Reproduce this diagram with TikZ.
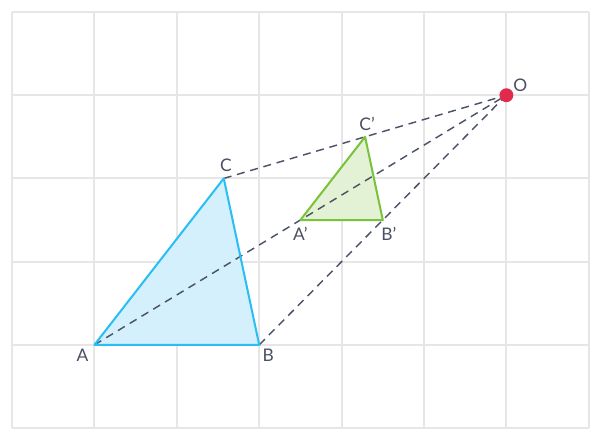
\documentclass[tikz,border=0pt]{standalone}
\usepackage{fontspec}
\setmainfont{Lato}
\usetikzlibrary{positioning}

\definecolor{gridgray}{HTML}{E6E6E6}
\definecolor{bluestroke}{HTML}{29BFF5}
\definecolor{bluefill}{HTML}{D4F0FC}
\definecolor{greenstroke}{HTML}{78C33A}
\definecolor{greenfill}{HTML}{E3F1D4}
\definecolor{rayline}{HTML}{4B5366}
\definecolor{centerred}{HTML}{E22A4D}
\definecolor{labeltext}{HTML}{4A4F63}

\begin{document}
\begin{tikzpicture}[x=2cm, y=2.02cm]
\tikzset{
    gridline/.style={draw=gridgray, line width=1.3pt},
    bigtri/.style={draw=bluestroke, line width=1.4pt, line join=round},
    smalltri/.style={draw=greenstroke, line width=1.4pt, line join=round},
    ray/.style={draw=rayline, line width=1pt, dash pattern=on 5.5pt off 4pt},
    lbl/.style={text=labeltext, font=\fontsize{12}{14}\selectfont, inner sep=0pt}
}
\useasboundingbox (-0.146,-0.144) rectangle (7.136,5.144);

% grid
\draw[gridline] (0,0) grid[step={(1,1)}] (7,5);

% points
\coordinate (A) at (1,1);
\coordinate (B) at (3,1);
\coordinate (C) at (2.57,3);
\coordinate (O) at (6,4);
\coordinate (A1) at (3.5,2.5);
\coordinate (B1) at (4.5,2.5);
\coordinate (C1) at (4.285,3.5);

% triangles (fill)
\fill[bluefill] (A) -- (B) -- (C) -- cycle;
\fill[greenfill] (A1) -- (B1) -- (C1) -- cycle;

% rays
\draw[ray] (A) -- (O);
\draw[ray] (B) -- (O);
\draw[ray] (C) -- (O);

% triangles (outline)
\draw[bigtri] (A) -- (B) -- (C) -- cycle;
\draw[smalltri] (A1) -- (B1) -- (C1) -- cycle;

% centre
\fill[centerred] (O) circle (4.8pt);

% labels
\node[lbl] (lA)  at ([xshift=-8.3pt, yshift=-6.9pt]A)  {A};
\node[lbl] (lB)  at ([xshift=6.2pt, yshift=-6.9pt]B)   {B};
\node[lbl] (lC)  at ([xshift=1.4pt, yshift=9.3pt]C)    {C};
\node[lbl] (lO)  at ([xshift=9.7pt, yshift=6.9pt]O)    {O};
\node[lbl] (lA1) at ([yshift=-9.7pt]A1)                {A’};
\node[lbl] (lB1) at ([xshift=4.1pt, yshift=-9.7pt]B1)  {B’};
\node[lbl] (lC1) at ([xshift=1.4pt, yshift=9pt]C1)     {C’};

\end{tikzpicture}
\end{document}
